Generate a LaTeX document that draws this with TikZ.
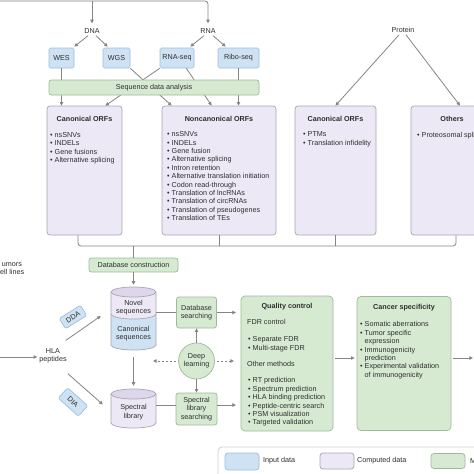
\documentclass[tikz,border=0pt]{standalone}
\usepackage{fontspec}
\setmainfont{Liberation Sans}
\usetikzlibrary{arrows.meta,calc,shapes.geometric}
\definecolor{inblue}{HTML}{CFE2F3}
\definecolor{inblueb}{HTML}{9DBFDF}
\definecolor{lav}{HTML}{ECE8F5}
\definecolor{lavb}{HTML}{A8A6B0}
\definecolor{lavtop}{HTML}{DDD6EC}
\definecolor{grn}{HTML}{D6EAD2}
\definecolor{grnb}{HTML}{9EBA9A}
\definecolor{ln}{HTML}{858585}
\definecolor{txt}{HTML}{2E2E2E}
\definecolor{legln}{HTML}{CFCFCF}
\begin{document}
\begin{tikzpicture}[x=1pt,y=-1pt, font=\fontsize{7.2}{8.4}\selectfont, text=txt,
 line/.style={draw=ln, line width=0.8pt},
 arr/.style={line, -{Triangle[length=3.6pt,width=3.4pt]}},
 darr/.style={arr, dash pattern=on 2.5pt off 1.5pt},
 inbox/.style={draw=inblueb, fill=inblue, line width=0.7pt, rounded corners=1.5pt, inner sep=0pt},
 grbox/.style={draw=grnb, fill=grn, line width=0.7pt, rounded corners=2.5pt, inner sep=0pt},
 lvbox/.style={draw=lavb, fill=lav, line width=0.7pt, rounded corners=3pt, inner sep=0pt},
 ttl/.style={font=\fontsize{7.2}{8.4}\selectfont\bfseries, inner sep=0pt},
 lst/.style={align=left, anchor=north west, inner sep=0pt},
 lbl/.style={inner sep=1pt, align=center},
 cyl/.style={draw=lavb, line width=0.7pt}]
\useasboundingbox (0,0) rectangle (474,474);
\fill[white] (0,0) rectangle (474,474);
\clip (0,0) rectangle (474,474);

% top
\coordinate (t0) at (-3,1);
\coordinate (tD) at (92,1);
\node[lbl] (DNA) at (92,31) {DNA};
\node[lbl] (RNA) at (208,31) {RNA};
\node[lbl] (Prot) at (403,30) {Protein};
\draw[arr, rounded corners=3pt, shorten >=4pt] (t0) -| (RNA.north);
\draw[arr, shorten >=4pt] (tD) -- (DNA.north);

\node[inbox, minimum width=25pt, minimum height=20pt] (WES) at (61.5,58) {WES};
\node[inbox, minimum width=27pt, minimum height=20pt] (WGS) at (116.5,58) {WGS};
\node[inbox, minimum width=34pt, minimum height=20pt] (RNAseq) at (177,58) {RNA-seq};
\node[inbox, minimum width=41pt, minimum height=20pt] (Ribo) at (238.5,58) {Ribo-seq};

\draw[arr] ($(DNA.south)+(-4,1)$) -- ($(WES.north east)+(0,-1)$);
\draw[arr] ($(DNA.south)+(4,1)$) -- ($(WGS.north west)+(5,-1)$);
\draw[arr] ($(RNA.south)+(-4,1)$) -- ($(RNAseq.north east)+(-4,-1)$);
\draw[arr] ($(RNA.south)+(5,1)$) -- ($(Ribo.north west)+(8,-1)$);

% ORF boxes
\node[lvbox, minimum width=75pt, minimum height=129pt] (CanL) at (84.5,170.5) {};
\node[lvbox, minimum width=114pt, minimum height=129pt] (Non) at (219,170.5) {};
\node[lvbox, minimum width=81pt, minimum height=129pt] (CanR) at (335.5,170.5) {};
\node[lvbox, minimum width=82pt, minimum height=129pt] (Oth) at (452,170.5) {};

\draw[arr] (WES.south) -- (WES.south |- CanL.north);
\draw[arr] (WGS.south east) -- ($(Non.north west)+(10,0)$);
\draw[arr] (RNAseq.south west) -- ($(CanL.north east)+(-17,0)$);
\draw[arr] ($(RNAseq.south east)+(-8,0)$) -- ($(Non.north west)+(50,0)$);
\draw[arr] (Ribo.south) -- (Ribo.south |- Non.north);

\node[grbox, minimum width=210pt, minimum height=15pt] (Seq) at (154,87.5) {Sequence data analysis};

\draw[arr] ($(Prot.south)+(-4,1)$) -- (CanR.north);
\draw[arr] ($(Prot.south)+(3,1)$) -- ($(Oth.north)+(8,0)$);

\node[ttl] (CanLt) at (84.5,119) {Canonical ORFs};
\node[lst] (CanLl) at (50,132) {• nsSNVs\\• INDELs\\• Gene fusions\\• Alternative splicing};
\node[ttl] (Nont) at (219,119) {Noncanonical ORFs};
\node[lst] (Nonl) at (167,131.5) {• nsSNVs\\• INDELs\\• Gene fusion\\• Alternative splicing\\• Intron retention\\• Alternative translation initiation\\• Codon read-through\\• Translation of lncRNAs\\• Translation of circRNAs\\• Translation of pseudogenes\\• Translation of TEs};
\node[ttl] (CanRt) at (335.5,119) {Canonical ORFs};
\node[lst] (CanRl) at (303,131.5) {• PTMs\\• Translation infidelity};
\node[ttl] (Otht) at (452,119) {Others};
\node[lst] (Othl) at (417,132) {• Proteosomal splicing};

% bus
\coordinate (bL) at (78,246);
\coordinate (bR) at (456,246);
\coordinate (bM) at (133.5,246);
\draw[line, rounded corners=3pt] (CanL.south -| bL) -- (bL) -- (bR) -- (Oth.south -| bR);
\draw[line] (Non.south) -- (Non.south |- bL);
\draw[line] (CanR.south) -- (CanR.south |- bL);
\node[grbox, minimum width=89pt, minimum height=14pt] (DBc) at (133.5,265) {Database construction};
\draw[line] (bM) -- (bM |- DBc.north);

\node[lst, align=left] (tum) at (1.7,262) {umors\\[-0.3pt]\hspace*{-1.7pt}ell lines};

% cylinder 1
\fill[lav] (111,292) -- (111,314) arc[start angle=180,end angle=0,x radius=22.5,y radius=5] -- (156,292) -- cycle;
\fill[inblue] (111,314) arc[start angle=180,end angle=0,x radius=22.5,y radius=5] -- (156,345) arc[start angle=0,end angle=180,x radius=22.5,y radius=5] -- cycle;
\filldraw[cyl, fill=lavtop] (133.5,292) ellipse[x radius=22.5, y radius=5];
\draw[cyl] (111,292) -- (111,345) arc[start angle=180,end angle=0,x radius=22.5,y radius=5] -- (156,292);
\draw[cyl] (111,314) arc[start angle=180,end angle=0,x radius=22.5,y radius=5];
\node[inner sep=0pt, minimum width=45pt, minimum height=63pt] (cyl1) at (133.5,318.5) {};
\node[lbl, inner sep=0pt] (nov) at (133.5,307.5) {Novel\\sequences};
\node[lbl, inner sep=0pt] (canseq) at (133.5,333.5) {Canonical\\sequences};

% cylinder 2
\fill[lav] (111,394) -- (111,423) arc[start angle=180,end angle=0,x radius=22.5,y radius=5] -- (156,394) -- cycle;
\filldraw[cyl, fill=lavtop] (133.5,394) ellipse[x radius=22.5, y radius=5];
\draw[cyl] (111,394) -- (111,423) arc[start angle=180,end angle=0,x radius=22.5,y radius=5] -- (156,394);
\node[inner sep=0pt, minimum width=45pt, minimum height=39pt] (cyl2) at (133.5,408.5) {};
\node[lbl, inner sep=0pt] (spl) at (133.5,412) {Spectral\\library};

\draw[arr, shorten >=2pt] (DBc.south) -- (cyl1.north);
\draw[arr, shorten <=7pt, shorten >=3pt] (cyl1.south) -- (cyl2.north);

% searching
\node[grbox, minimum width=40pt, minimum height=31pt, align=center] (DBs) at (196.5,312.5) {Database\\searching};
\node[circle, draw=grnb, fill=grn, line width=0.7pt, minimum size=36pt, inner sep=0pt, align=center] (DL) at (196.5,361) {Deep\\learning};
\node[grbox, minimum width=41pt, minimum height=32pt, align=center] (SLs) at (196.5,409) {Spectral\\library\\searching};
\draw[line] (DBs.west -| cyl1.east) -- (DBs.west);
\coordinate (qin1) at (236,312.5);
\draw[arr] (DBs.east) -- (qin1);
\draw[arr] (DL.north) -- (DBs.south);
\draw[arr] (DL.south) -- (SLs.north);
\coordinate (dlL) at (153,361);
\coordinate (dlR) at (234,361);
\draw[darr, shorten <=2pt] (DL.west) -- (dlL);
\draw[darr, shorten <=2pt] (DL.east) -- (dlR);
\coordinate (sl) at ($(SLs.west)+(0,-4)$);
\coordinate (sr) at ($(SLs.east)+(0,-4)$);
\coordinate (qin2) at (236,405);
\draw[line] (sl -| cyl2.east) -- (sl);
\draw[arr] (sr) -- (qin2);

% HLA
\node[lbl] (HLA) at (53,356) {HLA\\peptides};
\coordinate (hin) at (-3,357);
\draw[arr, shorten >=1pt] (hin) -- (HLA.west |- hin);
\draw[arr] ($(HLA.north east)+(-2,-7)$) -- ($(cyl1.west)+(-10,-2.5)$);
\draw[arr] ($(HLA.south east)+(0,9)$) -- ($(cyl2.west)+(-8,-4)$);
\node[inbox, rotate=32, minimum width=25pt, minimum height=12pt] (DDA) at (73,317) {DDA};
\node[inbox, rotate=-42, minimum width=27pt, minimum height=14pt] (DIA) at (73,402) {DIA};

% QC
\node[grbox, rounded corners=4pt, minimum width=92pt, minimum height=135pt] (QC) at (287,363.5) {};
\node[ttl] (QCt) at (287,306.5) {Quality control};
\node[lst] (QCa) at (247,319.5) {FDR control};
\node[lst] (QCb) at (248,336.5) {• Separate FDR\\• Multi-stage FDR};
\node[lst] (QCc) at (247,361.5) {Other methods};
\node[lst] (QCd) at (248,377.5) {• RT prediction\\• Spectrum prediction\\• HLA binding prediction\\• Peptide-centric search\\• PSM visualization\\• Targeted validation};

% Cancer
\node[grbox, rounded corners=4pt, minimum width=94pt, minimum height=134pt] (Can) at (404,363.5) {};
\node[ttl] (Cant) at (404,308) {Cancer specificity};
\node[lst] (Canl) at (360,321.5) {• Somatic aberrations\\• Tumor specific\\\phantom{• }expression\\• Immunogenicity\\\phantom{• }prediction\\• Experimental validation\\\phantom{• }of immunogenicity};

\draw[arr, shorten <=2pt, shorten >=2pt] ($(QC.east)+(0,-5.5)$) -- ($(Can.west)+(0,-5.5)$);
\coordinate (out) at (473,358);
\draw[arr, shorten <=2pt] ($(Can.east)+(0,-5.5)$) -- (out);

% legend
\draw[legln, line width=0.8pt, rounded corners=4pt] (218,480) -- (218,447) -- (480,447);
\node[inbox, rounded corners=3pt, minimum width=34pt, minimum height=17pt] (L1) at (242,461.5) {};
\node[anchor=west, inner sep=0pt] (L1t) at (263,460.5) {Input data};
\node[lvbox, minimum width=34pt, minimum height=16pt] (L2) at (337,461) {};
\node[anchor=west, inner sep=0pt] (L2t) at (357,460.5) {Computed data};
\node[grbox, rounded corners=3pt, minimum width=34pt, minimum height=15pt] (L3) at (448,461) {};
\node[anchor=west, inner sep=0pt] (L3t) at (470,460.5) {Methods};
\end{tikzpicture}
\end{document}
